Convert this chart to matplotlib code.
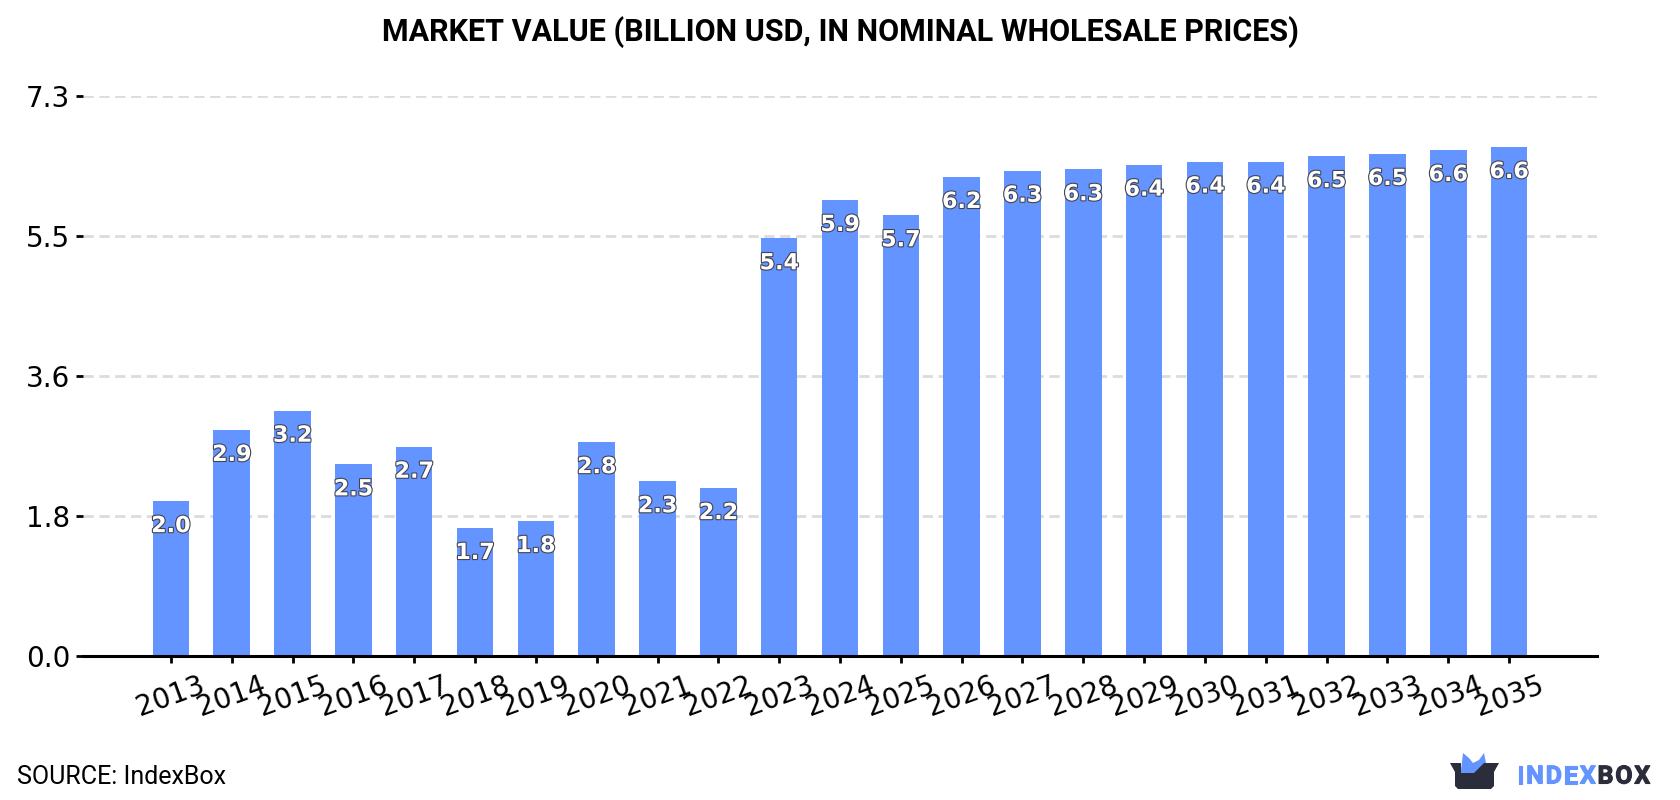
"""Market value bar chart, 2013-2035, with source line and logo."""

import matplotlib
matplotlib.use("Agg")
import matplotlib.patheffects as pe
import matplotlib.pyplot as plt
from matplotlib.patches import Polygon

W, H = 1680, 800
BLUE = "#6394ff"
DARK = "#2b2d3a"

YEARS = [2013, 2014, 2015, 2016, 2017, 2018, 2019, 2020, 2021, 2022, 2023, 2024,
         2025, 2026, 2027, 2028, 2029, 2030, 2031, 2032, 2033, 2034, 2035]
VALUES = [2.02, 2.949, 3.20, 2.50, 2.73, 1.67, 1.76, 2.79, 2.28, 2.19, 5.449, 5.949,
          5.749, 6.249, 6.33, 6.349, 6.41, 6.449, 6.449, 6.52, 6.549, 6.60, 6.64]
Y_TICKS = [0.0, 1.825, 3.65, 5.475, 7.3]
Y_TICK_LABELS = ["0.0", "1.8", "3.6", "5.5", "7.3"]

TITLE = "MARKET VALUE (BILLION USD, IN NOMINAL WHOLESALE PRICES)"
SOURCE = "SOURCE: IndexBox"


def px(x: float, y: float) -> tuple[float, float]:
    """Pixel position (origin top-left) to figure fraction."""
    return x / W, 1 - y / H


def spaced_text(fig, x: float, y: float, word: str, color: str, gap: float) -> float:
    """Write a word letter by letter with extra tracking; returns the end x in pixels."""
    renderer = fig.canvas.get_renderer()
    for letter in word:
        fx, fy = px(x, y)
        t = fig.text(fx, fy, letter, color=color, family="Roboto", weight="bold",
                     fontsize=18, ha="left", va="center_baseline",
                     path_effects=[pe.withStroke(linewidth=0.8, foreground=color)])
        x += t.get_window_extent(renderer).width + gap
    return x


def draw_logo(fig) -> None:
    crown = [(1461, 770), (1463, 753), (1469, 758), (1473, 763), (1479, 760),
             (1484, 753), (1486, 763), (1488, 770), (1478, 778), (1461, 778)]
    fig.add_artist(Polygon([px(*p) for p in crown], closed=True, color=BLUE,
                           transform=fig.transFigure, lw=0))
    body = [(1450, 763), (1461, 763), (1461, 773), (1474, 773), (1484, 763),
            (1499, 763), (1494, 772), (1494, 786), (1491, 789), (1458, 789),
            (1455, 786), (1455, 772)]
    fig.add_artist(Polygon([px(*p) for p in body], closed=True, color=DARK,
                           transform=fig.transFigure, lw=0))
    end = spaced_text(fig, 1517, 774, "INDEX", BLUE, 1.8)
    spaced_text(fig, end, 774, "BOX", DARK, 1.8)


def main() -> None:
    fig = plt.figure(figsize=(W / 100, H / 100), dpi=100)
    ax = fig.add_axes([83 / W, 1 - 656 / H, (1597 - 83) / W, (656 - 96.4) / H])

    ax.bar(YEARS, VALUES, width=0.6, color=BLUE, zorder=2)
    ax.set_xlim(YEARS[0] - 1.445, YEARS[-1] + 1.445)
    ax.set_ylim(0, 7.3)

    ax.set_yticks(Y_TICKS, Y_TICK_LABELS)
    ax.set_xticks(YEARS, [str(y) for y in YEARS], rotation=20)
    ax.tick_params(axis="both", labelsize=20, length=5, width=2, color="black")
    ax.tick_params(axis="x", pad=6)
    ax.tick_params(axis="y", pad=4)
    ax.grid(axis="y", color="#dcdcdc", lw=2, ls=(0, (3.7, 2)), zorder=1)
    for side in ("top", "left", "right"):
        ax.spines[side].set_visible(False)
    ax.spines["bottom"].set_linewidth(2.2)

    stroke = [pe.withStroke(linewidth=1.6, foreground="#44444f")]
    for year, val in zip(YEARS, VALUES):
        ax.annotate(f"{val:.1f}", (year, val), xytext=(0, -18), textcoords="offset points",
                    ha="center", va="center", color="white", weight="bold", fontsize=16,
                    path_effects=stroke, zorder=3)

    x, y = px(840, 32)
    fig.text(x, y, TITLE, family="Roboto", weight="bold", fontsize=22, ha="center", va="center")
    x, y = px(17, 777)
    fig.text(x, y, SOURCE, family="Roboto", fontsize=18, ha="left", va="center")
    draw_logo(fig)

    fig.savefig("out.png", dpi=100)
    plt.close(fig)


if __name__ == "__main__":
    main()
